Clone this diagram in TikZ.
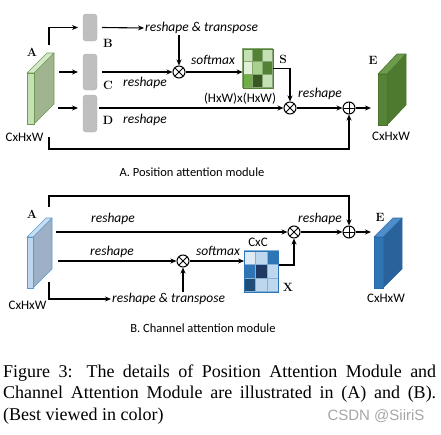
\documentclass[tikz,border=0pt]{standalone}
\usepackage{fontspec}
\newfontfamily\carlitofont{Carlito}
\newfontfamily\tmsfont{Liberation Serif}
\newfontfamily\lsansfont{Liberation Sans}
\usetikzlibrary{arrows.meta,calc}
\definecolor{gFrontA}{HTML}{C5E0B4}
\definecolor{gTopA}{HTML}{D3E8C6}
\definecolor{gSideA}{HTML}{A0B58F}
\definecolor{gEdgeA}{HTML}{6E9A50}
\definecolor{gFrontE}{HTML}{568436}
\definecolor{gTopE}{HTML}{6C9C4B}
\definecolor{gSideE}{HTML}{4D7A2F}
\definecolor{gEdgeE}{HTML}{4A742C}
\definecolor{bFrontA}{HTML}{BDD7EE}
\definecolor{bTopA}{HTML}{C9DEF1}
\definecolor{bSideA}{HTML}{9DB0C6}
\definecolor{bEdgeA}{HTML}{5B9BD5}
\definecolor{bFrontE}{HTML}{2E75B6}
\definecolor{bTopE}{HTML}{4F8ECB}
\definecolor{bSideE}{HTML}{2A639C}
\definecolor{bEdgeE}{HTML}{2A6AA8}
\definecolor{sA}{HTML}{C5E0B4}
\definecolor{sB}{HTML}{548235}
\definecolor{sC}{HTML}{E2F0D9}
\definecolor{sD}{HTML}{A9D18E}
\definecolor{sE}{HTML}{70AD47}
\definecolor{sF}{HTML}{385723}
\definecolor{xA}{HTML}{DEEBF7}
\definecolor{xB}{HTML}{BDD7EE}
\definecolor{xC}{HTML}{2E75B6}
\definecolor{xD}{HTML}{203864}
\definecolor{xE}{HTML}{1F4E79}
\definecolor{blkfill}{HTML}{BFBFBF}
\definecolor{blkedge}{HTML}{B0B0B0}
\begin{document}
\begin{tikzpicture}[x=1pt,y=-1pt,
  ln/.style={line width=1.1pt},
  arr/.style={line width=1.1pt,-{Stealth[length=6pt,width=5pt]}},
  blk/.style={draw=blkedge, fill=blkfill, rounded corners=3pt, minimum width=14pt, inner sep=0pt, outer xsep=5pt, outer ysep=0pt},
  lab/.style={font=\carlitofont\itshape\fontsize{13.5}{14}\selectfont, inner sep=1pt},
  dim/.style={font=\carlitofont\fontsize{13}{14}\selectfont, inner sep=0pt},
  big/.style={font=\bfseries\fontsize{12}{12}\selectfont, inner sep=0pt},
  ttl/.style={font=\carlitofont\fontsize{12.5}{13}\selectfont, inner sep=0pt},
  mat/.style={draw, line width=0.8pt, inner sep=0pt},
  otimesnode/.style={circle, draw, line width=1pt, minimum size=12pt, inner sep=0pt,
    path picture={\draw[line width=1pt] (path picture bounding box.north west) -- (path picture bounding box.south east) (path picture bounding box.north east) -- (path picture bounding box.south west);}},
  oplusnode/.style={circle, draw, line width=1pt, minimum size=12pt, inner sep=0pt,
    path picture={\draw[line width=1pt] (path picture bounding box.north) -- (path picture bounding box.south) (path picture bounding box.east) -- (path picture bounding box.west);}}
]
\useasboundingbox (0,0) rectangle (441,434);

% ================= Part A =================
\filldraw[fill=gSideA, draw=gEdgeA, line width=0.6pt, line join=round] (34,73) -- (54,53) -- (54,104) -- (34,124) -- cycle;
\filldraw[fill=gTopA, draw=gEdgeA, line width=0.6pt, line join=round] (27,73) -- (34,73) -- (54,53) -- (47,53) -- cycle;
\filldraw[fill=gFrontA, draw=gEdgeA, line width=0.6pt] (27,73) rectangle (34,124);
\node[inner sep=0pt, minimum width=27pt, minimum height=71pt] (cubeA1) at (40.5,88.5) {};
\filldraw[fill=gSideE, draw=gEdgeE, line width=0.6pt, line join=round] (387,74) -- (406,54) -- (406,105) -- (387,125) -- cycle;
\filldraw[fill=gTopE, draw=gEdgeE, line width=0.6pt, line join=round] (378,74) -- (387,74) -- (406,54) -- (397,54) -- cycle;
\filldraw[fill=gFrontE, draw=gEdgeE, line width=0.6pt] (378,74) rectangle (387,125);
\node[inner sep=0pt, minimum width=28pt, minimum height=71pt] (cubeE1) at (392,89.5) {};

\node[blk, minimum height=27pt] (B) at (90,27.5) {};
\node[blk, minimum height=36pt] (C) at (90,72) {};
\node[blk, minimum height=37pt] (D) at (90,113.5) {};
\node[big] (lB) at (108,43) {B};
\node[big] (lC) at (108,85) {C};
\node[big] (lD) at (108,120) {D};
\node[big] (lA1) at (32,52) {A};
\node[big] (lE1) at (373,60) {E};
\node[big] (lS) at (283,59) {S};
\node[dim] (dA1) at (24.5,137) {CxHxW};
\node[dim] (dE1) at (391,136) {CxHxW};

\node[lab, anchor=west] (rt1) at (144,28) {reshape \& transpose};
\node[otimesnode] (m1) at (179,72) {};
\node[lab] (r1) at (145,83) {reshape};
\node[lab] (r2) at (145,120) {reshape};
\node[dim] (hw) at (240,99) {(HxW)x(HxW)};
\node[lab] (sm1) at (213,60) {softmax};
\node[mat, draw=sB, minimum width=30pt, minimum height=39pt] (S) at (258,68.5) {};
\foreach \c [count=\i from 0] in {sA,sB,sA,sC,sD,sB,sE,sF,sA} {
  \pgfmathtruncatemacro\col{mod(\i,3)}
  \pgfmathtruncatemacro\row{\i/3}
  \filldraw[fill=\c, draw=sB!70, line width=0.4pt] ($(S.north west)+(\col*10,\row*13)$) rectangle ++(10,13);
}
\node[mat, draw=sB, minimum width=30pt, minimum height=39pt] at (S) {};
\node[otimesnode] (m2) at (290,108) {};
\node[lab] (r3) at (320,94) {reshape};
\node[oplusnode] (p1) at (349,108) {};

\coordinate (aT) at (49,45);
\coordinate (aC) at (59,72);
\coordinate (aD) at (58,108);
\coordinate (aL) at (49,137);
\coordinate (eA) at (371,108);

\draw[arr] (aT) |- (B.west);
\draw[arr] (aC) -- (C.west);
\draw[arr] (aD) -- (aD -| D.west);
\draw[arr] (B.east) -- (rt1.west);
\draw[arr] (rt1.south -| m1) -- (m1);
\draw[arr] (C.east) -- (m1);
\draw[arr] ([xshift=-3pt]D.east |- m2) -- (m2);
\draw[arr] (m1) -- (m1 -| S.west);
\draw[arr] (S.east) -| (m2);
\draw[arr] (m2) -- (p1);
\draw[arr] (p1) -- (eA);
\draw[arr] (aL) -- ++(0,12) -| (p1);

\node[ttl] (tA) at (192,172) {A. Position attention module};

% ================= Part B =================
\filldraw[fill=bSideA, draw=bEdgeA, line width=0.6pt, line join=round] (33,237) -- (52,218) -- (52,269) -- (33,288) -- cycle;
\filldraw[fill=bTopA, draw=bEdgeA, line width=0.6pt, line join=round] (27,237) -- (33,237) -- (52,218) -- (46,218) -- cycle;
\filldraw[fill=bFrontA, draw=bEdgeA, line width=0.6pt] (27,237) rectangle (33,288);
\node[inner sep=0pt, minimum width=25pt, minimum height=70pt] (cubeA2) at (39.5,253) {};
\filldraw[fill=bSideE, draw=bEdgeE, line width=0.6pt, line join=round] (383,237) -- (402,218) -- (402,269) -- (383,288) -- cycle;
\filldraw[fill=bTopE, draw=bEdgeE, line width=0.6pt, line join=round] (374,237) -- (383,237) -- (402,218) -- (393,218) -- cycle;
\filldraw[fill=bFrontE, draw=bEdgeE, line width=0.6pt] (374,237) rectangle (383,288);
\node[inner sep=0pt, minimum width=28pt, minimum height=70pt] (cubeE2) at (388,253) {};

\node[big] (lA2) at (32,214) {A};
\node[big] (lE2) at (380,217) {E};
\node[big] (lX) at (288,287) {X};
\node[dim] (dA2) at (27.5,305) {CxHxW};
\node[dim] (dE2) at (386,298) {CxHxW};

\node[otimesnode] (m3) at (294,232) {};
\node[oplusnode] (p2) at (349,232) {};
\node[otimesnode] (m4) at (183,261) {};
\node[lab] (r4) at (113,219) {reshape};
\node[lab] (r5) at (112,252) {reshape};
\node[lab] (r6) at (320,219) {reshape};
\node[lab] (sm2) at (218,251) {softmax};
\node[dim] (cc) at (258,242) {CxC};
\node[lab, anchor=west] (rt2) at (111,299) {reshape \& transpose};
\node[mat, draw=xC, minimum width=34pt, minimum height=41pt] (X) at (261.5,271.5) {};
\foreach \c [count=\i from 0] in {xA,xB,xC,xC,xD,xB,xE,xB,xB} {
  \pgfmathtruncatemacro\col{mod(\i,3)}
  \pgfmathtruncatemacro\row{\i/3}
  \filldraw[fill=\c, draw=xB!60!xC, line width=0.4pt] ($(X.north west)+(\col*11.333,\row*13.667)$) rectangle ++(11.333,13.667);
}
\node[mat, draw=xC, minimum width=34pt, minimum height=41pt] at (X) {};

\coordinate (bT) at (49,207);
\coordinate (bR) at (56,232);
\coordinate (bR2) at (58,261);
\coordinate (bB) at (49,282);
\coordinate (eB) at (371,232);

\draw[arr] (bT) -- ++(0,-11) -| (p2);
\draw[arr] (bR) -- (m3);
\draw[arr] (bR2) -- (m4);
\draw[arr] (bB) -- ++(0,17) -- (rt2.west);
\draw[arr] (rt2.north -| m4) -- (m4);
\draw[arr] (m4) -- (m4 -| X.west);
\draw[arr] ([yshift=6.5pt]X.east) -| (m3);
\draw[arr] (m3) -- (p2);
\draw[arr] (p2) -- (eB);

\node[ttl] (tB) at (203,328) {B. Channel attention module};

% ================= Caption =================
\node[anchor=north west, inner sep=0pt, text width=433pt, align=justify,
  font=\tmsfont\fontsize{18}{21.7}\selectfont]
  (cap) at (3,364.3) {\tolerance=10000 \hyphenpenalty=10000 \hbadness=10000 \relax Figure 3:  The details of Position Attention Module and Channel Attention Module are illustrated in (A) and (B). (Best viewed in color)};
\node[font=\lsansfont\fontsize{15}{16}\selectfont, text=gray!70, inner sep=0pt, anchor=base] (wm) at (376,420) {CSDN @SiiriS};
\end{tikzpicture}
\end{document}
